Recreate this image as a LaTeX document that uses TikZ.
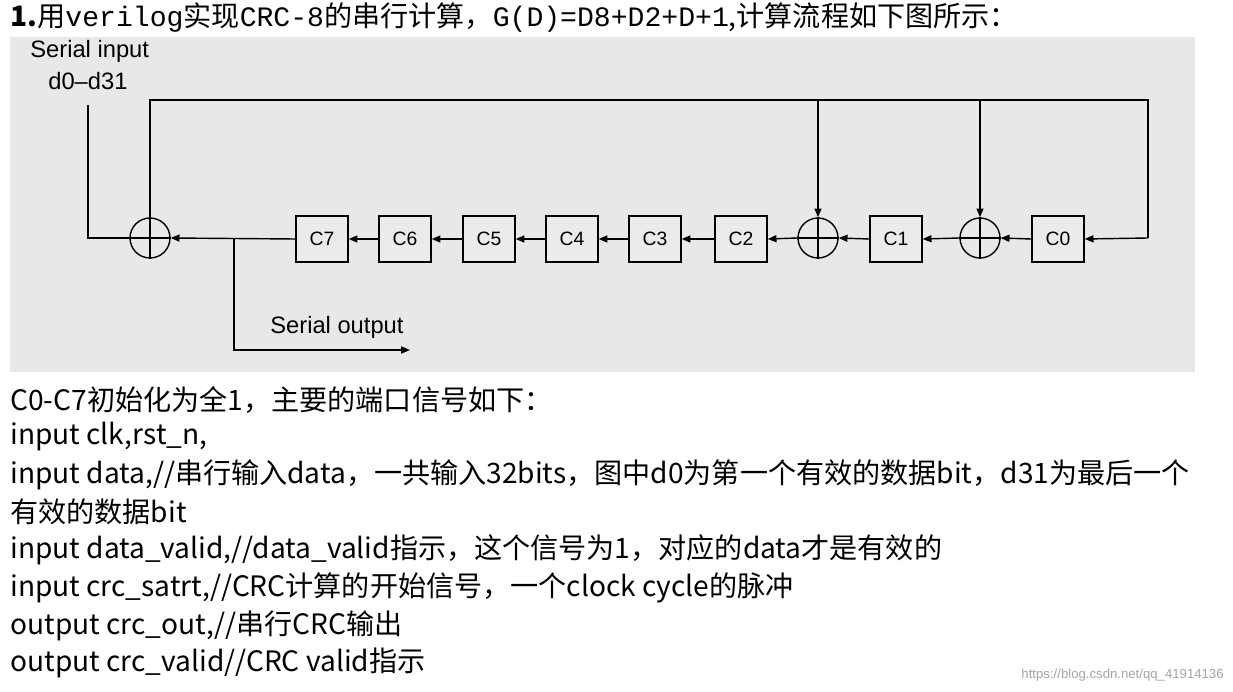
\documentclass[tikz,border=0pt]{standalone}
\usepackage{fontspec}
\setmainfont{Noto Sans CJK SC}
\newfontfamily\ttl{Liberation Mono}
\newfontfamily\dg{Liberation Sans}
\usetikzlibrary{arrows.meta}
\begin{document}
\begin{tikzpicture}[x=0.02cm,y=-0.02cm,
  reg/.style={draw,thick,minimum width=1.04cm,minimum height=0.92cm,font=\dg\fontsize{11}{11}\selectfont,fill=white!92!black},
  xo/.style={draw,thick,circle,minimum size=0.8cm,inner sep=0pt},
  ln/.style={thick},
  ar/.style={thick,-{Triangle[length=5pt,width=4pt]}},
  tx/.style={anchor=west,inner sep=0pt,font=\fontsize{16}{16}\selectfont}]
\useasboundingbox (0,0) rectangle (1233,692);
\fill[white] (0,0) rectangle (1233,692);
\fill[black!9] (10,37) rectangle (1195,372);
\node[tx] (title) at (10,18) {\textbf{1.}用{\ttl verilog}实现{\ttl CRC-8}的串行计算，{\ttl G(D)=D8+D2+D+1},计算流程如下图所示：};
\node[anchor=west,inner sep=0pt,font=\dg\fontsize{13.5}{13.5}\selectfont] (si) at (30,51) {Serial input};
\node[anchor=west,inner sep=0pt,font=\dg\fontsize{13.5}{13.5}\selectfont] (sd) at (48,81) {d0–d31};
\node[xo] (x1) at (150,238) {};
\node[xo] (x2) at (818,238) {};
\node[xo] (x3) at (980,238) {};
\draw[thick] (x1.north)--(x1.south) (x1.west)--(x1.east);
\draw[thick] (x2.north)--(x2.south) (x2.west)--(x2.east);
\draw[thick] (x3.north)--(x3.south) (x3.west)--(x3.east);
\node[reg] (c7) at (322,239) {C7};
\node[reg] (c6) at (405,239) {C6};
\node[reg] (c5) at (489,239) {C5};
\node[reg] (c4) at (572,239) {C4};
\node[reg] (c3) at (655,239) {C3};
\node[reg] (c2) at (741,239) {C2};
\node[reg] (c1) at (896,239) {C1};
\node[reg] (c0) at (1058,239) {C0};
\coordinate (in) at (88,105);
\coordinate (tl) at (150,100);
\coordinate (tr) at (1148,100);
\coordinate (br) at (1148,238);
\coordinate (br2) at (234,238);
\coordinate (oe) at (410,350);
\draw[ln] (in) |- (x1.west);
\draw[ln] (x1.north) -- (tl) -- (tr) -- (br);
\draw[ar] (br) -- (c0.east);
\draw[ar] (818,100) -- (x2.north);
\draw[ar] (980,100) -- (x3.north);
\draw[ar] (c0.west) -- (x3.east);
\draw[ar] (x3.west) -- (c1.east);
\draw[ar] (c1.west) -- (x2.east);
\draw[ar] (x2.west) -- (c2.east);
\draw[ar] (c2.west) -- (c3.east);
\draw[ar] (c3.west) -- (c4.east);
\draw[ar] (c4.west) -- (c5.east);
\draw[ar] (c5.west) -- (c6.east);
\draw[ar] (c6.west) -- (c7.east);
\draw[ar] (c7.west) -- (x1.east);
\draw[ar] (br2) |- (oe);
\node[anchor=west,inner sep=0pt,font=\dg\fontsize{13.5}{13.5}\selectfont] (so) at (270,327) {Serial output};
\node[tx] (l1) at (10,400) {C0-C7初始化为全1，主要的端口信号如下：};
\node[tx] (l2) at (10,437) {input clk,rst\_n,};
\node[tx] (l3) at (10,475) {input data,//串行输入data，一共输入32bits，图中d0为第一个有效的数据bit，d31为最后一个};
\node[tx] (l4) at (10,512) {有效的数据bit};
\node[tx] (l5) at (10,550) {input data\_valid,//data\_valid指示，这个信号为1，对应的data才是有效的};
\node[tx] (l6) at (10,588) {input crc\_satrt,//CRC计算的开始信号，一个clock cycle的脉冲};
\node[tx] (l7) at (10,626) {output crc\_out,//串行CRC输出};
\node[tx] (l8) at (10,663) {output crc\_valid//CRC valid指示};
\node[anchor=east,inner sep=0pt,text=black!35,font=\dg\fontsize{7.5}{7.5}\selectfont] (wm) at (1224,675) {https://blog.csdn.net/qq\_41914136};
\end{tikzpicture}
\end{document}
